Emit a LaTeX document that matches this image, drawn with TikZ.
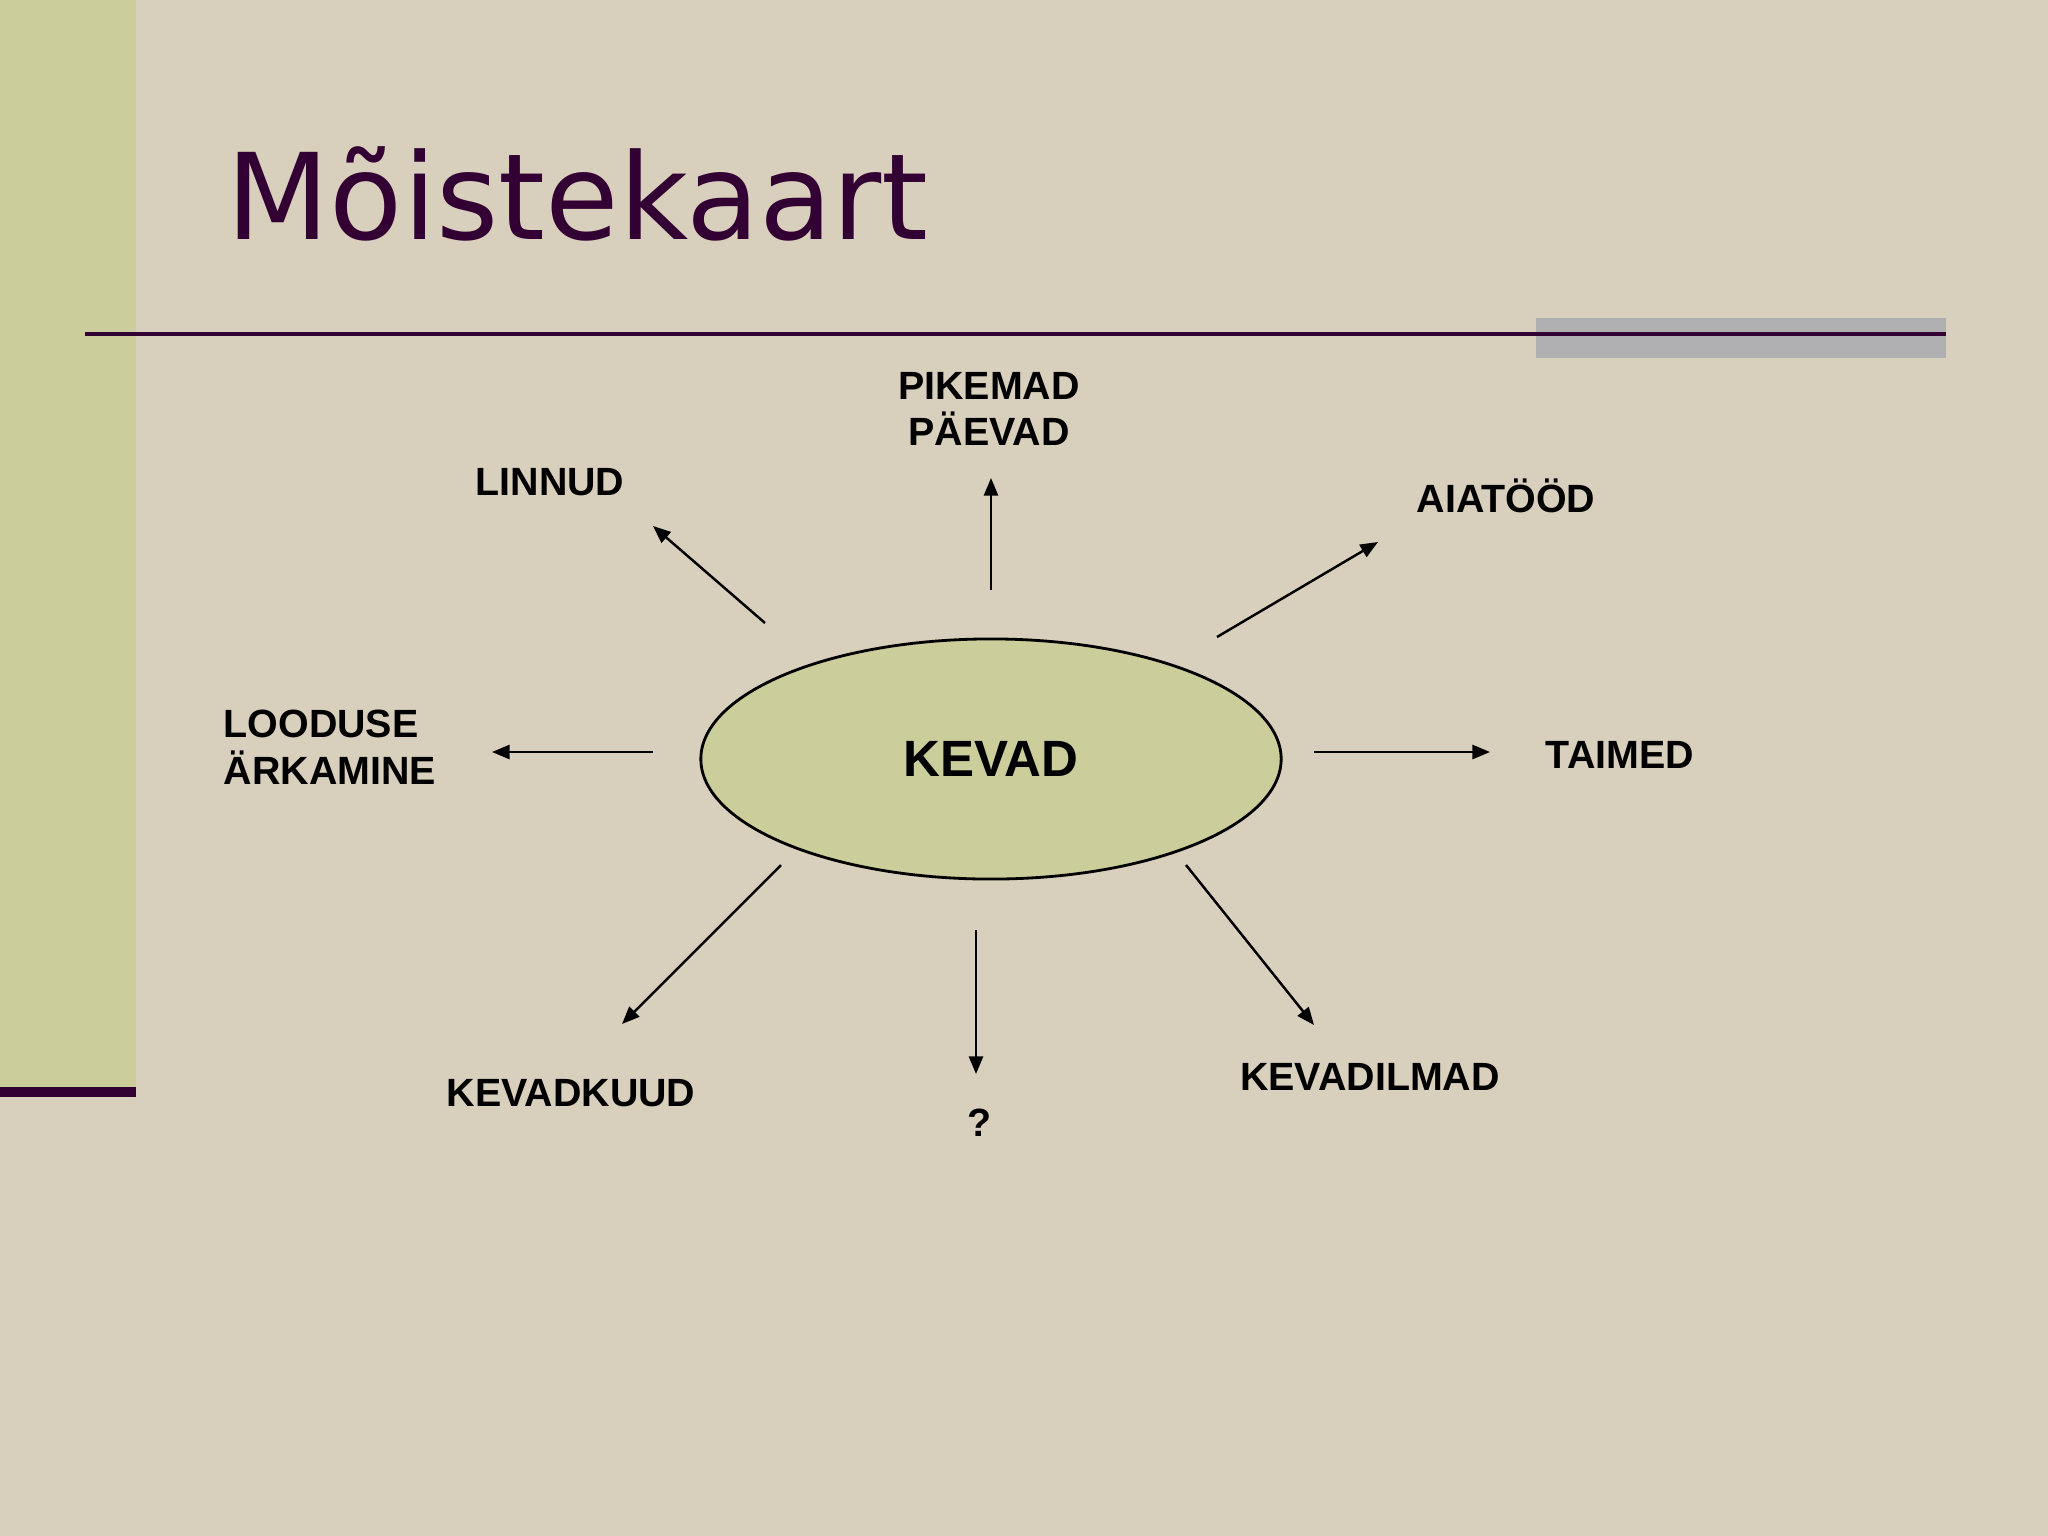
\documentclass[tikz,border=0pt]{standalone}
\usepackage{fontspec}
\setmainfont{Liberation Sans}
\newfontfamily\titlefont{DejaVu Sans}
\usetikzlibrary{arrows.meta, shapes.geometric}

\definecolor{canvas}{RGB}{216,207,188}
\definecolor{sage}{RGB}{203,205,155}
\definecolor{plum}{RGB}{51,0,51}
\definecolor{bargray}{RGB}{176,176,178}

\tikzset{
  concept/.style={font=\fontsize{11.2}{13.3}\selectfont\bfseries, inner sep=0pt, align=center},
  link/.style={->, line width=0.7pt},
}

\begin{document}
\begin{tikzpicture}[x=0.01cm, y=-0.01cm, >={Stealth[inset=0pt, length=5pt, width=4pt]}]
    % Slide background and decoration
    \fill[canvas] (0,0) rectangle (2048,1536);
    \useasboundingbox (0,0) rectangle (2048,1536);
    \fill[sage] (0,0) rectangle (136,1087);
    \fill[plum] (0,1087) rectangle (136,1097);
    \fill[bargray] (1536,318) rectangle (1946,358);
    \draw[plum, line width=1.2pt] (85,334) -- (1946,334);

    % Title
    \node[anchor=base west, inner sep=0pt, text=plum, font=\titlefont\fontsize{34}{40}\selectfont] (title) at (226,239) {Mõistekaart};

    % Central concept
    \node[ellipse, draw, fill=sage, line width=0.8pt, minimum width=5.8cm, minimum height=2.4cm,
          font=\fontsize{14.5}{17}\selectfont\bfseries] (kevad) at (991,759) {KEVAD};

    % Surrounding concepts
    \node[concept] (paevad) at (989,409) {PIKEMAD\\PÄEVAD};
    \node[concept] (linnud) at (550,482) {LINNUD};
    \node[concept, anchor=base] (aiatood) at (1506,512) {AIATÖÖD};
    \node[concept, align=left, anchor=west] (looduse) at (223,747) {LOODUSE\\ÄRKAMINE};
    \node[concept] (taimed) at (1620,755) {TAIMED};
    \node[concept] (kuud) at (571,1093) {KEVADKUUD};
    \node[concept, anchor=base] (kysimus) at (980,1136) {?};
    \node[concept] (ilmad) at (1370,1077) {KEVADILMAD};

    % Arrow ends (arrows stand free of the nodes)
    \coordinate (paevad-s) at (991,590);  \coordinate (paevad-e) at (991,478);
    \coordinate (linnud-s) at (765,623);  \coordinate (linnud-e) at (653,526);
    \coordinate (aiatood-s) at (1217,637); \coordinate (aiatood-e) at (1378,542);
    \coordinate (looduse-s) at (653,752); \coordinate (looduse-e) at (492,752);
    \coordinate (taimed-s) at (1314,752); \coordinate (taimed-e) at (1490,752);
    \coordinate (kuud-s) at (781,865);    \coordinate (kuud-e) at (622,1024);
    \coordinate (kysimus-s) at (976,930); \coordinate (kysimus-e) at (976,1074);
    \coordinate (ilmad-s) at (1186,865);  \coordinate (ilmad-e) at (1314,1025);

    % Arrows
    \draw[link] (paevad-s) -- (paevad-e);
    \draw[link] (linnud-s) -- (linnud-e);
    \draw[link] (aiatood-s) -- (aiatood-e);
    \draw[link] (looduse-s) -- (looduse-e);
    \draw[link] (taimed-s) -- (taimed-e);
    \draw[link] (kuud-s) -- (kuud-e);
    \draw[link] (kysimus-s) -- (kysimus-e);
    \draw[link] (ilmad-s) -- (ilmad-e);
\end{tikzpicture}
\end{document}
